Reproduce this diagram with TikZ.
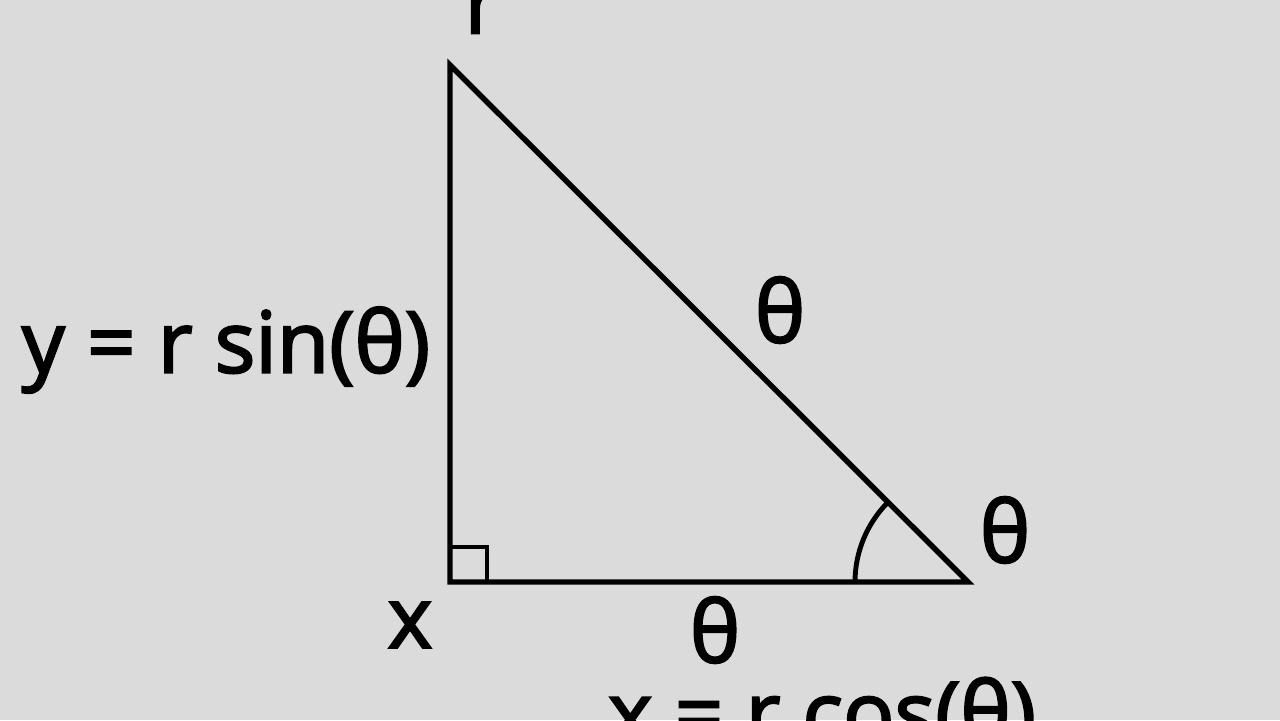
\documentclass[tikz,border=0pt]{standalone}
\usepackage{fontspec}
\setmainfont{Open Sans}[FakeBold=2.5]
\usetikzlibrary{calc}

\begin{document}
\begin{tikzpicture}[x=0.02cm,y=-0.02cm,
  lbl/.style={font=\fontsize{48.5}{52}\selectfont,inner sep=0pt}]
\fill[gray!28] (0,0) rectangle (1280,720);
\useasboundingbox (0,0) rectangle (1280,720);

\coordinate (A) at (450,65);
\coordinate (B) at (450,582);
\coordinate (C) at (968,582);

\draw[line width=3.1pt,line join=miter] (A) -- (B) -- (C) -- cycle;
\draw[line width=2.6pt] ($(B)+(0,-35)$) -- ++(37,0) -- ++(0,35);
\draw[line width=2.8pt] ($(C)+(-113,0)$) arc[start angle=180,end angle=225,radius=113];

\node[lbl] (r) at (482,10) {r};
\node[lbl] (ysin) at (226,350) {y = r sin(θ)};
\node[lbl] (thhyp) at (780,310) {θ};
\node[lbl] (thC) at (1005,530) {θ};
\node[lbl] (x) at (410,625) {x};
\node[lbl] (thbase) at (715,630) {θ};
\node[lbl] (xcos) at (822,717) {x = r cos(θ)};
\end{tikzpicture}
\end{document}
